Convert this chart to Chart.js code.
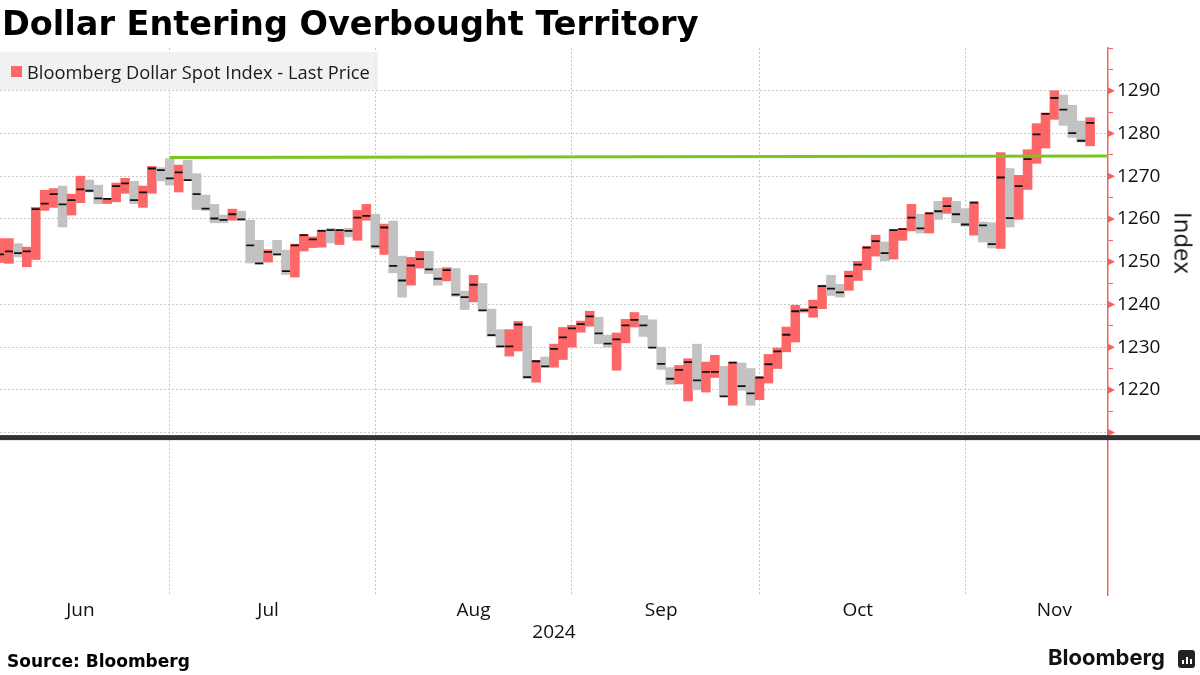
<!DOCTYPE html>
<html>
<head>
<meta charset="utf-8">
<script src="https://cdn.jsdelivr.net/npm/chart.js@4.4.1/dist/chart.umd.min.js"></script>
<style>
  html, body { margin: 0; padding: 0; background: #fff; }
  #wrap { position: relative; width: 1200px; height: 675px; overflow: hidden; }
  #chart { position: absolute; left: 0; top: 0; }
  .title { position: absolute; left: 2px; top: 4px; font: bold 33.5px "DejaVu Sans"; color: #000; white-space: nowrap; }
  .legend { position: absolute; left: 0; top: 52px; width: 378px; height: 38px; background: rgba(238,238,238,0.85);
            font: 18.3px "Open Sans"; color: #1a1a1a; display: flex; align-items: center; white-space: nowrap; }
  .legend i { display: inline-block; width: 11px; height: 11px; background: #fd6767; margin: 0 5px 0 11px; }
  .ylab { position: absolute; left: 1184px; top: 243px; transform: translate(-50%, -50%) rotate(90deg);
          font: 24px "Open Sans"; color: #111; white-space: nowrap; }
  .source { position: absolute; left: 7px; top: 651px; font: bold 17px "DejaVu Sans"; color: #000; }
  .brand { position: absolute; left: 1048px; top: 644px; font: bold 22px Inter; color: #111; }
  .logo { position: absolute; left: 1178px; top: 650px; width: 17px; height: 18px; background: #222; border-radius: 3px;
          display: flex; align-items: flex-end; justify-content: center; gap: 2px; padding-bottom: 4px; box-sizing: border-box; }
  .logo b { display: block; width: 2px; background: #fff; }
</style>
</head>
<body>
<div id="wrap">
  <canvas id="chart" width="1200" height="675"></canvas>
  <div class="title">Dollar Entering Overbought Territory</div>
  <div class="legend"><i></i>Bloomberg Dollar Spot Index - Last Price</div>
  <div class="ylab">Index</div>
  <div class="source">Source: Bloomberg</div>
  <div class="brand">Bloomberg</div>
  <div class="logo"><b style="height:4px"></b><b style="height:7px"></b><b style="height:5px"></b></div>
</div>
<script>
// trading days on the axis (Jun 4 - Nov 25, 2024)
const dates = [
  'Jun 4','Jun 5','Jun 6','Jun 7','Jun 10','Jun 11','Jun 12','Jun 13','Jun 14','Jun 17',
  'Jun 18','Jun 19','Jun 20','Jun 21','Jun 24','Jun 25','Jun 26','Jun 27','Jun 28',
  'Jul 1','Jul 2','Jul 3','Jul 4','Jul 5','Jul 8','Jul 9','Jul 10','Jul 11','Jul 12',
  'Jul 15','Jul 16','Jul 17','Jul 18','Jul 19','Jul 22','Jul 23','Jul 24','Jul 25','Jul 26',
  'Jul 29','Jul 30','Jul 31',
  'Aug 1','Aug 2','Aug 5','Aug 6','Aug 7','Aug 8','Aug 9','Aug 12','Aug 13','Aug 14',
  'Aug 15','Aug 16','Aug 19','Aug 20','Aug 21','Aug 22','Aug 23','Aug 26','Aug 27','Aug 28',
  'Aug 29','Aug 30',
  'Sep 2','Sep 3','Sep 4','Sep 5','Sep 6','Sep 9','Sep 10','Sep 11','Sep 12','Sep 13',
  'Sep 16','Sep 17','Sep 18','Sep 19','Sep 20','Sep 23','Sep 24','Sep 25','Sep 26','Sep 27',
  'Sep 30',
  'Oct 1','Oct 2','Oct 3','Oct 4','Oct 7','Oct 8','Oct 9','Oct 10','Oct 11','Oct 14',
  'Oct 15','Oct 16','Oct 17','Oct 18','Oct 21','Oct 22','Oct 23','Oct 24','Oct 25','Oct 28',
  'Oct 29','Oct 30','Oct 31',
  'Nov 1','Nov 4','Nov 5','Nov 6','Nov 7','Nov 8','Nov 11','Nov 12','Nov 13','Nov 14',
  'Nov 15','Nov 18','Nov 19','Nov 20','Nov 21','Nov 22','Nov 25'
];

// daily range and last price
const lows = [
  1249.8,1249.6,1251.1,1248.8,1250.5,1262.0,1262.7,1258.1,1260.9,1263.8,
  1266.3,1263.6,1263.6,1264.0,1266.0,1263.6,1262.7,1266.0,1268.9,1267.9,
  1266.3,1269.1,1262.2,1262.0,1259.1,1259.1,1259.7,1259.7,1249.7,1249.4,
  1249.9,1251.5,1247.0,1246.4,1252.5,1253.3,1253.4,1254.4,1254.0,1255.8,
  1255.0,1259.7,1253.1,1251.7,1247.4,1241.7,1244.5,1248.5,1247.2,1244.5,
  1245.5,1241.9,1238.8,1240.6,1238.5,1232.5,1230.0,1227.9,1229.1,1222.6,
  1221.8,1225.3,1225.3,1227.1,1230.0,1233.5,1234.9,1230.8,1230.0,1224.6,
  1231.0,1234.7,1232.5,1229.9,1224.8,1221.3,1221.4,1217.4,1220.0,1219.5,
  1222.9,1218.4,1216.4,1219.9,1216.4,1217.7,1221.6,1225.0,1228.9,1231.2,
  1238.2,1237.0,1239.0,1242.1,1241.7,1243.3,1245.6,1248.1,1251.3,1250.2,
  1250.6,1255.0,1257.2,1256.7,1256.7,1259.9,1261.3,1259.1,1258.3,1256.2,
  1254.6,1253.2,1253.1,1258.1,1259.9,1266.9,1273.0,1276.6,1283.3,1281.9,
  1279.1,1278.0,1277.1
];
const highs = [
  1255.4,1255.4,1254.2,1253.4,1262.7,1266.7,1267.1,1267.7,1265.8,1270.0,
  1269.1,1267.9,1264.8,1268.4,1269.5,1268.8,1267.7,1272.3,1272.0,1274.1,
  1272.6,1273.7,1270.6,1265.6,1263.4,1260.9,1262.3,1261.8,1259.7,1255.0,
  1252.8,1255.0,1252.7,1254.1,1256.4,1255.8,1257.4,1257.8,1257.5,1257.8,
  1262.0,1263.4,1261.1,1258.8,1259.5,1251.3,1251.0,1252.4,1252.4,1248.4,
  1248.6,1248.4,1243.1,1246.8,1244.9,1238.9,1234.1,1234.1,1236.0,1234.9,
  1226.9,1227.7,1230.7,1234.6,1235.1,1236.1,1238.4,1237.0,1232.8,1233.3,
  1236.5,1238.1,1237.4,1236.4,1230.0,1225.2,1225.7,1227.3,1230.7,1226.5,
  1228.1,1225.5,1226.5,1226.3,1225.0,1223.0,1228.3,1229.8,1234.7,1239.8,
  1239.0,1241.0,1244.5,1246.8,1244.7,1247.8,1250.1,1253.6,1256.2,1254.6,
  1257.5,1257.8,1263.4,1261.1,1261.5,1264.1,1265.0,1264.1,1262.4,1264.0,
  1259.3,1259.1,1275.5,1271.8,1270.2,1276.2,1282.3,1284.8,1290.0,1289.0,
  1286.6,1282.9,1283.7
];
const closes = [
  1251.7,1252.4,1252.0,1252.4,1262.3,1263.6,1265.8,1263.4,1264.4,1266.9,
  1266.6,1264.8,1264.7,1267.7,1268.3,1264.4,1266.2,1271.8,1271.4,1269.5,
  1270.9,1269.1,1265.8,1262.4,1260.1,1259.8,1261.1,1259.9,1253.8,1249.6,
  1252.3,1251.7,1247.8,1253.8,1256.2,1255.2,1257.2,1257.4,1257.4,1257.2,
  1260.3,1260.7,1253.6,1258.0,1249.0,1245.6,1249.1,1250.6,1248.2,1246.0,
  1248.0,1242.3,1241.7,1244.6,1238.6,1232.8,1230.2,1230.2,1235.3,1223.0,
  1226.7,1225.5,1229.6,1232.3,1234.4,1235.4,1237.2,1233.2,1230.8,1231.8,
  1235.1,1236.4,1235.1,1229.9,1226.1,1222.6,1224.7,1226.5,1222.2,1224.2,
  1224.2,1218.5,1226.4,1220.9,1219.2,1222.9,1226.0,1229.0,1232.9,1238.4,
  1238.6,1239.3,1244.3,1243.7,1242.8,1246.6,1249.3,1253.3,1254.8,1252.0,
  1257.4,1257.6,1260.3,1257.8,1261.3,1261.8,1263.0,1261.1,1258.7,1263.8,
  1258.5,1254.1,1269.7,1260.2,1267.7,1274.0,1279.8,1284.6,1288.3,1285.6,
  1280.1,1278.3,1282.5
];
// 1 = up day (red), 0 = down day (grey)
const upDays = [
  1,1,0,1,1,1,1,0,1,1, 0,0,1,1,1,0,1,1,0,0,
  1,0,0,0,0,0,1,0,0,0, 1,0,0,1,1,1,1,0,1,0,
  1,1,0,1,0,0,1,1,0,0, 1,0,0,1,0,0,0,1,1,0,
  1,0,1,1,1,1,1,0,0,1, 1,1,0,0,0,0,1,1,0,1,
  1,0,1,0,0,1,1,1,1,1, 1,1,1,0,0,1,1,1,1,0,
  1,1,1,0,1,0,1,0,0,1, 0,0,1,0,1,1,1,1,1,0,
  0,0,1
];

// green reference line
const trendDates = ['Jul 1', 'Nov 25'];
const trendValues = [1274.4, 1274.75];

// axis ticks
const monthLabelDates = ['Jun 17', 'Jul 16', 'Aug 16', 'Sep 16', 'Oct 16', 'Nov 15'];
const yTicks = [1210,1215,1220,1225,1230,1235,1240,1245,1250,1255,1260,1265,1270,1275,1280,1285,1290,1295,1300];

const red = '#fd6767';
const grey = '#c2c2c2';
const axisRed = '#f26262';
const gridGrey = '#c8c8c8';
const tickFont = {family: 'Open Sans', size: 19};

const isMonthStart = i => i > 0 && dates[i] && dates[i].split(' ')[0] !== dates[i - 1].split(' ')[0];

// arrow heads on the major y ticks + the dark panel divider
const panelPlugin = {
    id: 'panel',
    afterDraw(chart) {
        const {ctx} = chart;
        const y = chart.scales.y;
        ctx.save();
        ctx.fillStyle = axisRed;
        yTicks.forEach(v => {
            if (v % 10 !== 0 || v === yTicks[yTicks.length - 1]) return;
            const py = y.getPixelForValue(v);
            ctx.beginPath();
            ctx.moveTo(y.left, py - 3.5);
            ctx.lineTo(y.left + 7, py);
            ctx.lineTo(y.left, py + 3.5);
            ctx.closePath();
            ctx.fill();
        });
        const sy = y.getPixelForValue(yTicks[0]) + 5;
        ctx.fillStyle = '#333';
        ctx.fillRect(0, sy - 2.5, chart.width, 5);
        ctx.restore();
    }
};

const chart = new Chart(document.getElementById('chart').getContext('2d'), {
    type: 'bar',
    data: {
        labels: dates,
        datasets: [
            {
                type: 'line',
                data: trendDates.map((d, i) => ({x: d, y: trendValues[i]})),
                borderColor: '#7cc623',
                borderWidth: 3,
                pointRadius: 0,
                order: 0
            },
            {
                type: 'line',
                data: closes,
                showLine: false,
                pointStyle: 'line',
                pointRadius: 4,
                pointBorderWidth: 1.8,
                pointBorderColor: '#111',
                pointHoverRadius: 0,
                order: 1
            },
            {
                data: highs.map((h, i) => [lows[i], h]),
                backgroundColor: upDays.map(u => u ? red : grey),
                borderWidth: 0,
                barPercentage: 1,
                categoryPercentage: 1,
                order: 2
            }
        ]
    },
    options: {
        responsive: false,
        animation: false,
        devicePixelRatio: 1,
        layout: {autoPadding: false, padding: {top: 48, left: 0, right: 0, bottom: 0}},
        plugins: {legend: {display: false}, tooltip: {enabled: false}},
        scales: {
            x: {
                offset: false,
                afterFit: s => { s.height = 80; },
                grid: {
                    offset: false,
                    drawTicks: true,
                    tickLength: 4,
                    tickColor: 'transparent',
                    lineWidth: 1,
                    color: ctx => isMonthStart(ctx.index) ? gridGrey : 'transparent'
                },
                border: {display: false, dash: [2, 2]},
                ticks: {
                    autoSkip: false,
                    maxRotation: 0,
                    padding: 0,
                    font: tickFont,
                    color: '#111',
                    callback: (v, i) => monthLabelDates.includes(dates[i]) ? dates[i].split(' ')[0] : ''
                },
                title: {display: true, text: '2024', font: tickFont, color: '#111', padding: {top: 0, bottom: 31}}
            },
            y: {
                position: 'right',
                min: 1172,
                max: 1300,
                afterBuildTicks: s => { s.ticks = yTicks.map(v => ({value: v})); },
                afterFit: s => { s.width = 92; },
                ticks: {
                    autoSkip: false,
                    padding: 4,
                    font: tickFont,
                    color: '#111',
                    callback: v => (v % 10 === 0 && v > yTicks[0] && v < yTicks[yTicks.length - 1]) ? v : ''
                },
                grid: {
                    lineWidth: 1,
                    tickLength: 5,
                    color: ctx => (ctx.tick && ctx.tick.value % 10 === 0 && ctx.tick.value < 1300) ? gridGrey : 'transparent',
                    tickColor: ctx => (ctx.tick && (ctx.tick.value % 10 !== 0 || ctx.tick.value === 1300)) ? axisRed : 'transparent'
                },
                border: {color: axisRed, width: 1.5, dash: [2, 2]}
            }
        }
    },
    plugins: [panelPlugin]
});
</script>
</body>
</html>
